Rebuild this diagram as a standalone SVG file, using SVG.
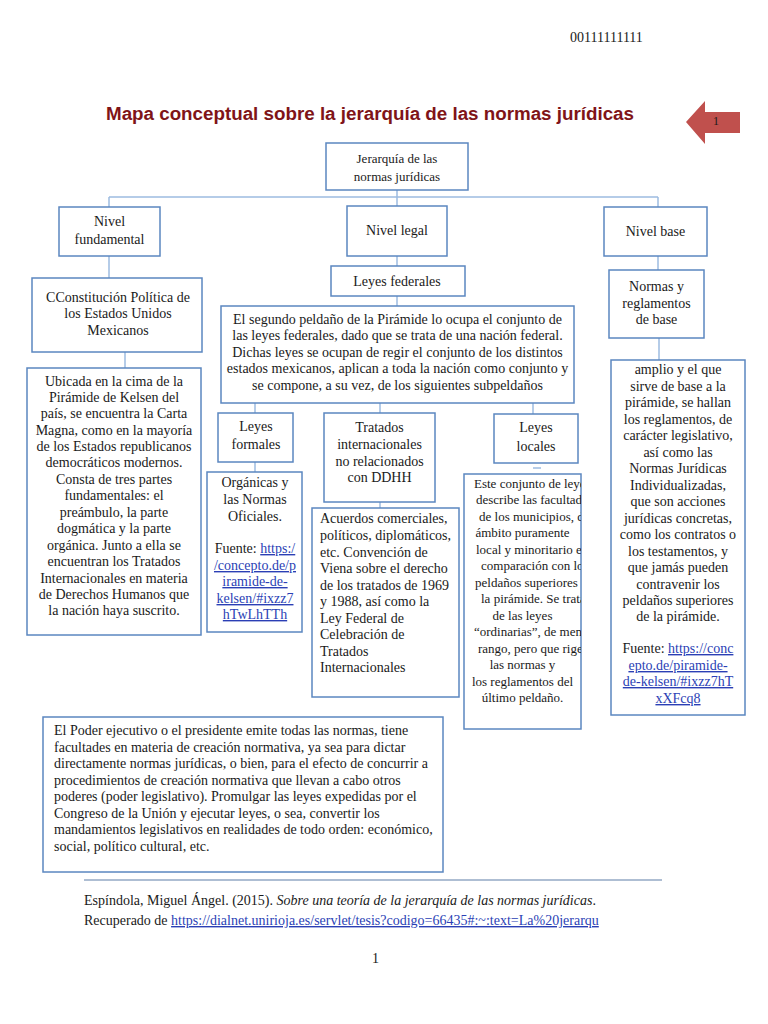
<svg xmlns="http://www.w3.org/2000/svg" width="768" height="1024" viewBox="0 0 768 1024" font-size="14">
<defs>
<clipPath id="clipLoc"><rect x="464" y="474" width="117" height="255"/></clipPath>
</defs>
<style>
.box{fill:#fff;stroke:#5b87c0;stroke-width:1.5}
.con{stroke:#9dbbe0;stroke-width:1.5;fill:none}
.t{font-family:"Liberation Serif","Times New Roman",serif;fill:#1a1a1a}
.c{text-anchor:middle}
.s{text-anchor:start}
.lnk{fill:#2b3fb5;text-decoration:underline}
</style>
<rect width="768" height="1024" fill="#fff"/>
<text x="570" y="42" class="t">00111111111</text>
<text x="106" y="120" font-family="Liberation Sans,Arial,sans-serif" font-weight="bold" font-size="18" fill="#7f1418" textLength="528" lengthAdjust="spacingAndGlyphs">Mapa conceptual sobre la jerarquía de las normas jurídicas</text>
<g id="arrow">
<polygon points="686,122 705,101 705,112 740,112 740,133 705,133 705,144" fill="#c0504d"/>
<text x="713" y="125" class="t" fill="#fff" font-size="12">1</text>
</g>
<g id="connectors">
<line class="con" x1="397" y1="190" x2="397" y2="197"/>
<line class="con" x1="109" y1="197" x2="658" y2="197"/>
<line class="con" x1="109" y1="197" x2="109" y2="207"/>
<line class="con" x1="397" y1="197" x2="397" y2="206"/>
<line class="con" x1="658" y1="197" x2="658" y2="207"/>
<line class="con" x1="109" y1="256" x2="109" y2="278"/>
<line class="con" x1="125" y1="352" x2="125" y2="368"/>
<line class="con" x1="397" y1="256" x2="397" y2="266"/>
<line class="con" x1="397" y1="296" x2="397" y2="306"/>
<line class="con" x1="255" y1="403" x2="255" y2="413"/>
<line class="con" x1="380" y1="403" x2="380" y2="413"/>
<line class="con" x1="533" y1="403" x2="533" y2="414"/>
<line class="con" x1="255" y1="462" x2="255" y2="472"/>
<line class="con" x1="380" y1="502" x2="380" y2="508"/>
<line class="con" x1="533" y1="468" x2="541" y2="468"/>
<line class="con" x1="658" y1="256" x2="658" y2="270"/>
<line class="con" x1="659" y1="338" x2="659" y2="360"/>
</g>
<g id="n-root"><rect class="box" x="326" y="143" width="142" height="47"/><text class="t c" font-size="13"><tspan x="397" y="163">Jerarquía de las</tspan><tspan x="397" y="181">normas jurídicas</tspan></text></g>
<g id="n-fund"><rect class="box" x="59" y="207" width="101" height="49"/><text class="t c"><tspan x="109.5" y="226">Nivel</tspan><tspan x="109.5" y="244">fundamental</tspan></text></g>
<g id="n-legal"><rect class="box" x="347" y="206" width="100" height="50"/><text class="t c" x="397" y="235">Nivel legal</text></g>
<g id="n-base"><rect class="box" x="604" y="207" width="103" height="49"/><text class="t c" x="655.5" y="236">Nivel base</text></g>
<g id="n-const"><rect class="box" x="32" y="278" width="170" height="74"/><text class="t c"><tspan x="118" y="302">CConstitución Política de</tspan><tspan x="118" y="318">los Estados Unidos</tspan><tspan x="118" y="335">Mexicanos</tspan></text></g>
<g id="n-const-desc"><rect class="box" x="27" y="368" width="174" height="267"/><text class="t c"><tspan x="114" y="386">Ubicada en la cima de la</tspan><tspan x="114" y="402">Pirámide de Kelsen del</tspan><tspan x="114" y="418">país, se encuentra la Carta</tspan><tspan x="114" y="435">Magna, como en la mayoría</tspan><tspan x="114" y="451">de los Estados republicanos</tspan><tspan x="114" y="467">democráticos modernos.</tspan><tspan x="114" y="484">Consta de tres partes</tspan><tspan x="114" y="500">fundamentales: el</tspan><tspan x="114" y="517">preámbulo, la parte</tspan><tspan x="114" y="533">dogmática y la parte</tspan><tspan x="114" y="550">orgánica. Junto a ella se</tspan><tspan x="114" y="566">encuentran los Tratados</tspan><tspan x="114" y="583">Internacionales en materia</tspan><tspan x="114" y="599">de Derechos Humanos que</tspan><tspan x="114" y="615">la nación haya suscrito.</tspan></text></g>
<g id="n-fed"><rect class="box" x="331" y="266" width="134" height="30"/><text class="t c" x="397" y="286">Leyes federales</text></g>
<g id="n-fed-desc"><rect class="box" x="221" y="306" width="353" height="97"/><text class="t c"><tspan x="397.5" y="324">El segundo peldaño de la Pirámide lo ocupa el conjunto de</tspan><tspan x="397.5" y="340">las leyes federales, dado que se trata de una nación federal.</tspan><tspan x="397.5" y="357">Dichas leyes se ocupan de regir el conjunto de los distintos</tspan><tspan x="397.5" y="373">estados mexicanos, aplican a toda la nación como conjunto y</tspan><tspan x="397.5" y="390">se compone, a su vez, de los siguientes subpeldaños</tspan></text></g>
<g id="n-formales"><rect class="box" x="218" y="413" width="75" height="49"/><text class="t c"><tspan x="256" y="431">Leyes</tspan><tspan x="256" y="449">formales</tspan></text></g>
<g id="n-tratados"><rect class="box" x="324" y="413" width="111" height="89"/><text class="t c"><tspan x="379.5" y="432">Tratados</tspan><tspan x="379.5" y="449">internacionales</tspan><tspan x="379.5" y="466">no relacionados</tspan><tspan x="379.5" y="482">con DDHH</tspan></text></g>
<g id="n-locales"><rect class="box" x="494" y="414" width="84" height="49"/><text class="t c"><tspan x="536" y="432">Leyes</tspan><tspan x="536" y="451">locales</tspan></text></g>
<g id="n-organicas"><rect class="box" x="207" y="472" width="95" height="160"/><text class="t c"><tspan x="255" y="487">Orgánicas y</tspan><tspan x="255" y="504">las Normas</tspan><tspan x="255" y="521">Oficiales.</tspan><tspan x="255" y="553">Fuente: <tspan class="lnk">https:/</tspan></tspan><tspan x="255" y="570" class="lnk">/concepto.de/p</tspan><tspan x="255" y="586" class="lnk">iramide-de-</tspan><tspan x="255" y="603" class="lnk">kelsen/#ixzz7</tspan><tspan x="255" y="619" class="lnk">hTwLhTTh</tspan></text></g>
<g id="n-acuerdos"><rect class="box" x="312" y="508" width="147" height="189"/><text class="t"><tspan x="320" y="523">Acuerdos comerciales,</tspan><tspan x="320" y="540">políticos, diplomáticos,</tspan><tspan x="320" y="557">etc. Convención de</tspan><tspan x="320" y="573">Viena sobre el derecho</tspan><tspan x="320" y="590">de los tratados de 1969</tspan><tspan x="320" y="606">y 1988, así como la</tspan><tspan x="320" y="623">Ley Federal de</tspan><tspan x="320" y="639">Celebración de</tspan><tspan x="320" y="656">Tratados</tspan><tspan x="320" y="672">Internacionales</tspan></text></g>
<g id="n-locales-desc"><rect class="box" x="464" y="474" width="117" height="255"/><g clip-path="url(#clipLoc)" font-size="13">
<text class="t s" x="474" y="488">Este conjunto de leyes</text>
<text class="t s" x="476" y="504">describe las facultades</text>
<text class="t s" x="479" y="521">de los municipios, de</text>
<text class="t c" x="522.5" y="537">ámbito puramente</text>
<text class="t s" x="476" y="554">local y minoritario en</text>
<text class="t s" x="481" y="570">comparación con los</text>
<text class="t s" x="475" y="587">peldaños superiores de</text>
<text class="t s" x="481" y="603">la pirámide. Se trata</text>
<text class="t c" x="522.5" y="620">de las leyes</text>
<text class="t s" x="474" y="636">“ordinarias”, de menor</text>
<text class="t s" x="478" y="653">rango, pero que rigen</text>
<text class="t c" x="522.5" y="669">las normas y</text>
<text class="t c" x="522.5" y="686">los reglamentos del</text>
<text class="t c" x="522.5" y="702">último peldaño.</text>
</g></g>
<g id="n-normas"><rect class="box" x="609" y="270" width="95" height="68"/><text class="t c"><tspan x="656.5" y="291">Normas y</tspan><tspan x="656.5" y="308">reglamentos</tspan><tspan x="656.5" y="324">de base</tspan></text></g>
<g id="n-normas-desc"><rect class="box" x="611" y="360" width="134" height="355"/><text class="t c"><tspan x="678" y="374">amplio y el que</tspan><tspan x="678" y="391">sirve de base a la</tspan><tspan x="678" y="407">pirámide, se hallan</tspan><tspan x="678" y="424">los reglamentos, de</tspan><tspan x="678" y="440">carácter legislativo,</tspan><tspan x="678" y="457">así como las</tspan><tspan x="678" y="473">Normas Jurídicas</tspan><tspan x="678" y="490">Individualizadas,</tspan><tspan x="678" y="506">que son acciones</tspan><tspan x="678" y="523">jurídicas concretas,</tspan><tspan x="678" y="539">como los contratos o</tspan><tspan x="678" y="556">los testamentos, y</tspan><tspan x="678" y="572">que jamás pueden</tspan><tspan x="678" y="589">contravenir los</tspan><tspan x="678" y="605">peldaños superiores</tspan><tspan x="678" y="621">de la pirámide.</tspan><tspan x="678" y="653">Fuente: <tspan class="lnk">https://conc</tspan></tspan><tspan x="678" y="670" class="lnk">epto.de/piramide-</tspan><tspan x="678" y="686" class="lnk">de-kelsen/#ixzz7hT</tspan><tspan x="678" y="703" class="lnk">xXFcq8</tspan></text></g>
<g id="n-poder"><rect class="box" x="43" y="717" width="400" height="155"/><text class="t"><tspan x="54" y="735">El Poder ejecutivo o el presidente emite todas las normas, tiene</tspan><tspan x="54" y="752">facultades en materia de creación normativa, ya sea para dictar</tspan><tspan x="54" y="768">directamente normas jurídicas, o bien, para el efecto de concurrir a</tspan><tspan x="54" y="785">procedimientos de creación normativa que llevan a cabo otros</tspan><tspan x="54" y="801">poderes (poder legislativo). Promulgar las leyes expedidas por el</tspan><tspan x="54" y="818">Congreso de la Unión y ejecutar leyes, o sea, convertir los</tspan><tspan x="54" y="834">mandamientos legislativos en realidades de todo orden: económico,</tspan><tspan x="54" y="851">social, político cultural, etc.</tspan></text></g>
<line x1="84" y1="880" x2="662" y2="880" stroke="#5f7fa8" stroke-width="1.2"/>
<text class="t" x="84" y="905">Espíndola, Miguel Ángel. (2015). <tspan font-style="italic">Sobre una teoría de la jerarquía de las normas jurídicas</tspan>.</text>
<text class="t" x="84" y="925">Recuperado de <tspan class="lnk">https://dialnet.unirioja.es/servlet/tesis?codigo=66435#:~:text=La%20jerarqu</tspan></text>
<text class="t" x="372" y="963">1</text>
</svg>
